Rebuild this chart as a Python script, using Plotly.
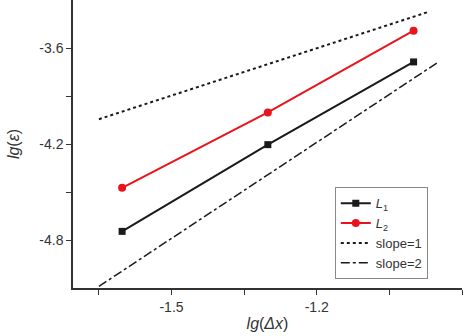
import numpy as np
import plotly.graph_objects as go

dx = [0.025, 0.05, 0.1]
x_vals = [float(np.log10(v)) for v in dx]
L1 = [-4.746, -4.204, -3.687]
L2 = [-4.474, -4.003, -3.492]
slope1_x = [-1.65, -0.97]
slope1_y = [-4.045, -3.375]
slope2_x = [-1.65, -0.95]
slope2_y = [-5.09, -3.69]

xticks = [-1.5, -1.2, -0.9]
xtick_text = ["-1.5", "-1.2", "-0.9"]
yticks = [-4.8, -4.2, -3.6]
ytick_text = ["-4.8", "-4.2", "-3.6"]

fig = go.Figure()
fig.add_trace(go.Scatter(x=x_vals, y=L1, mode="lines+markers", name="<i>L</i><sub>1</sub>",
                         line=dict(color="#1a1a1a", width=2),
                         marker=dict(symbol="square", size=7, color="#1a1a1a")))
fig.add_trace(go.Scatter(x=x_vals, y=L2, mode="lines+markers", name="<i>L</i><sub>2</sub>",
                         line=dict(color="#e8141c", width=2),
                         marker=dict(symbol="circle", size=8, color="#e8141c")))
fig.add_trace(go.Scatter(x=slope1_x, y=slope1_y, mode="lines", name="slope=1",
                         line=dict(color="#1a1a1a", width=2, dash="dot")))
fig.add_trace(go.Scatter(x=slope2_x, y=slope2_y, mode="lines", name="slope=2",
                         line=dict(color="#1a1a1a", width=1.5, dash="dashdot")))

axis_common = dict(showline=True, linecolor="#333333", linewidth=1.5, showgrid=False,
                   zeroline=False, ticks="outside", ticklen=5, tickwidth=1.2, tickcolor="#333333",
                   tickfont=dict(family="Liberation Sans, Arial", size=14, color="#333333"))

fig.update_xaxes(range=[-1.7035, -0.9], tickvals=xticks, ticktext=xtick_text,
                 minor=dict(ticks="outside", ticklen=5, tickwidth=1.2, tickcolor="#333333",
                            tickvals=[-1.65, -1.35, -1.05]),
                 title=dict(text="<i>lg</i>(<i>Δx</i>)", standoff=4,
                            font=dict(family="Liberation Sans, Arial", size=16, color="#333333")),
                 **axis_common)
fig.update_yaxes(range=[-5.1, -3.3], tickvals=yticks, ticktext=ytick_text,
                 minor=dict(ticks="outside", ticklen=5, tickwidth=1.2, tickcolor="#333333",
                            tickvals=[-4.5, -3.9]),
                 title=dict(text="<i>lg</i>(<i>ε</i>)", standoff=16,
                            font=dict(family="Liberation Sans, Arial", size=16, color="#333333")),
                 **axis_common)

fig.update_layout(
    width=474, height=336,
    margin=dict(l=73, r=12, t=0, b=48),
    plot_bgcolor="white", paper_bgcolor="white",
    legend=dict(x=0.673, y=0.35, xanchor="left", yanchor="top",
                bordercolor="#888888", borderwidth=1, bgcolor="white",
                font=dict(family="Liberation Sans, Arial", size=13, color="#333333"),
                tracegroupgap=0, itemwidth=30),
    showlegend=True,
)

fig.write_html("out.html")
